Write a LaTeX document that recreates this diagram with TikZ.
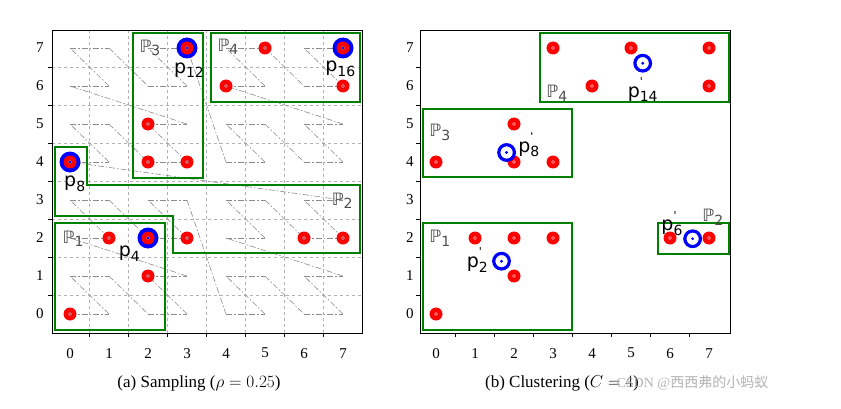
\documentclass[tikz,border=0pt]{standalone}
\usepackage{fontspec}
\setmainfont{Liberation Serif}
\newfontfamily\dv{DejaVu Sans}
\newfontfamily\cjk{Noto Sans CJK SC}
\newcommand{\lbP}[1]{{\dv\fontsize{17}{17}\selectfont\color{black!70}ℙ\raisebox{-0.4ex}{\fontsize{14}{14}\selectfont #1}}}
\newcommand{\lbp}[1]{{\dv\fontsize{19}{19}\selectfont p\raisebox{-0.45ex}{\fontsize{14}{14}\selectfont #1}}}
\newcommand{\lbq}[1]{{\dv\fontsize{19}{19}\selectfont p\rlap{\raisebox{1.1ex}{\fontsize{11}{11}\selectfont '}}\raisebox{-0.45ex}{\fontsize{14}{14}\selectfont #1}}}
\begin{document}
\begin{tikzpicture}[x=1pt,y=1pt,
  box/.style={draw=green!50!black,line width=2pt},
  reddot/.style={fill=red,draw=none},
  gridl/.style={gray!60,dashed,line width=0.6pt},
  zc/.style={gray!90,line width=0.6pt,dash pattern=on 6pt off 2pt on 1.5pt off 2pt},
  tick/.style={font=\fontsize{15}{15}\selectfont}]
\useasboundingbox (0,0) rectangle (841,408);
\def\pts{0/0,1/2,2/1,2/2,3/2,6/2,7/2,0/4,2/4,3/4,2/5,3/7,4/6,5/7,7/6,7/7}
% ---------- left
\begin{scope}[shift={(70,94)},x=39pt,y=38pt]
\foreach \g in {0.5,1.5,...,6.5}{
  \draw[gridl] (\g,-0.5) -- (\g,7.47);
  \draw[gridl] (-0.46,\g) -- (7.5,\g);
  \draw (\g,-0.5) -- (\g,-0.6);
  \draw (-0.46,\g) -- (-0.56,\g);}
\foreach \i in {1,...,63}{
  \pgfmathtruncatemacro\j{\i-1}
  \pgfmathtruncatemacro\xa{mod(\j,2)+2*mod(floor(\j/4),2)+4*mod(floor(\j/16),2)}
  \pgfmathtruncatemacro\ya{mod(floor(\j/2),2)+2*mod(floor(\j/8),2)+4*floor(\j/32)}
  \pgfmathtruncatemacro\xb{mod(\i,2)+2*mod(floor(\i/4),2)+4*mod(floor(\i/16),2)}
  \pgfmathtruncatemacro\yb{mod(floor(\i/2),2)+2*mod(floor(\i/8),2)+4*floor(\i/32)}
  \draw[zc] (\xa,\ya) -- (\xb,\yb);}
\draw[line width=0.8pt] (-0.46,-0.5) rectangle (7.5,7.47);
\foreach \k in {0,...,7}{
  \node[tick] (lx\k) at (\k,-1.03) {\k};
  \node[tick] (ly\k) at (-0.77,\k) {\k};}
\foreach \x/\y in {0/4,2/2,3/7,7/7} \fill[blue] (\x,\y) circle (10.5pt);
\foreach \x/\y in \pts {\fill[reddot] (\x,\y) circle (6.5pt); \draw[gray!60,line width=0.4pt] (\x,\y) circle (1.5pt);}
\foreach \x/\y in {0/4,2/2,3/7,7/7} \fill[blue] (\x,\y) circle (1.3pt);
\draw[box] (-0.38,2.39) rectangle (2.44,-0.42);
\draw[box] (-0.38,4.4) -- (0.43,4.4) -- (0.43,3.39) -- (7.44,3.39) -- (7.44,1.6) -- (2.63,1.6) -- (2.63,2.58) -- (-0.38,2.58) -- cycle;
\draw[box] (1.61,7.4) rectangle (3.42,3.59);
\draw[box] (3.62,7.4) rectangle (7.44,5.59);
\node (la3) at (2.05,7.0) {\lbP{3}};
\node (la4) at (4.05,7.03) {\lbP{4}};
\node (la1) at (0.08,1.98) {\lbP{1}};
\node (la2) at (6.98,2.98) {\lbP{2}};
\node (lp12) at (3.05,6.42) {\lbp{12}};
\node (lp16) at (6.93,6.45) {\lbp{16}};
\node (lp8) at (0.12,3.43) {\lbp{8}};
\node (lp4) at (1.52,1.58) {\lbp{4}};
\end{scope}
% ---------- right
\begin{scope}[shift={(436,94)},x=39pt,y=38pt]
\foreach \g in {0.5,1.5,...,6.5}{
  \draw (\g,-0.5) -- (\g,-0.6);
  \draw (-0.41,\g) -- (-0.51,\g);}
\draw[line width=0.8pt] (-0.41,-0.5) rectangle (7.55,7.47);
\foreach \k in {0,...,7}{
  \node[tick] (rx\k) at (\k,-1.03) {\k};
  \node[tick] (ry\k) at (-0.67,\k) {\k};}
\foreach \x/\y in \pts {\fill[reddot] (\x,\y) circle (6.5pt); \draw[white!70!red,line width=0.4pt] (\x,\y) circle (1.5pt);}
\foreach \x/\y in {5.3/6.6,1.81/4.25,1.68/1.39,6.58/1.98}{
  \draw[blue,line width=3.2pt,fill=white] (\x,\y) circle (7.8pt);
  \fill[blue] (\x,\y) circle (1.6pt);}
\draw[box] (2.67,7.39) rectangle (7.5,5.59);
\draw[box] (-0.34,5.39) rectangle (3.48,3.6);
\draw[box] (-0.34,2.39) rectangle (3.48,-0.42);
\draw[box] (5.68,2.39) rectangle (7.5,1.58);
\node (rb4) at (3.1,5.8) {\lbP{4}};
\node (rb3) at (0.1,4.78) {\lbP{3}};
\node (rb1) at (0.1,2.0) {\lbP{1}};
\node (rb2) at (7.1,2.55) {\lbP{2}};
\node (rq14) at (5.3,5.9) {\lbq{14}};
\node (rq8) at (2.38,4.45) {\lbq{8}};
\node (rq2) at (1.06,1.42) {\lbq{2}};
\node (rq6) at (6.05,2.38) {\lbq{6}};
\end{scope}
\node[font=\fontsize{17}{17}\selectfont] (capa) at (199,25) {(a) Sampling ($\rho=0.25$)};
\node[font=\fontsize{17}{17}\selectfont] (capb) at (562,25) {(b) Clustering ($C=4$)};
\node[font=\fontsize{14}{14}\selectfont,text=gray!60,anchor=west] (wm) at (613,25) {CSDN @{\cjk 西西弗的小蚂蚁}};
\end{tikzpicture}
\end{document}
